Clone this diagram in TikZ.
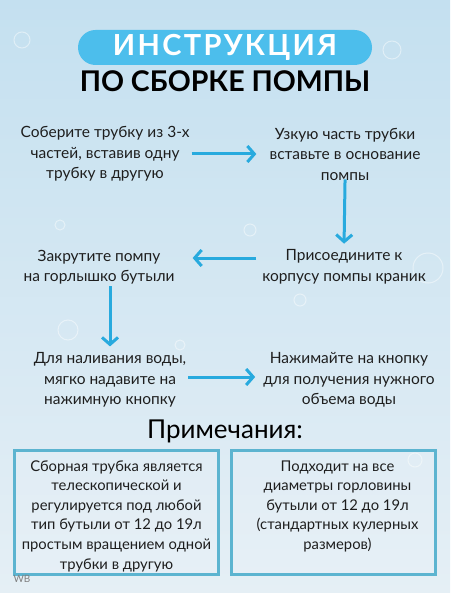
\documentclass[tikz,border=0pt]{standalone}
\usepackage{fontspec}
\setmainfont{Lato}
\newfontfamily\titlefont[LetterSpace=8]{Lato}
\usetikzlibrary{arrows.meta,positioning}
\definecolor{bgtop}{RGB}{196,224,240}
\definecolor{bgbot}{RGB}{229,239,245}
\definecolor{pillblue}{RGB}{76,190,236}
\definecolor{flowblue}{RGB}{40,170,222}
\definecolor{framecol}{RGB}{92,180,208}
\definecolor{inkcol}{RGB}{30,30,30}

\begin{document}
\begin{tikzpicture}[x=1pt,y=-1pt,
  stepnode/.style={align=center,text=inkcol,inner sep=2pt,font=\fontsize{15.5}{20.5}\selectfont},
  notetext/.style={align=center,text=inkcol,inner sep=0pt,anchor=north,font=\fontsize{14.8}{19.6}\selectfont},
  noteframe/.style={draw=framecol,line width=2.6pt,fill=white,fill opacity=0.1,minimum width=204pt,minimum height=124pt,inner sep=0pt},
  flow/.style={flowblue,line width=3pt,-{Straight Barb[length=7pt,width=16pt]}},
  bubble/.style={white,line width=1pt,opacity=0.45}]
  % ---- background
  \useasboundingbox (0,0) rectangle (450,593);
  \shade[top color=bgtop,bottom color=bgbot] (0,0) rectangle (450,593);
  \foreach \bx/\by/\br in {428/268/15,392/50/9,160/40/7,68/330/10,300/300/6,180/345/5,22/40/8,250/230/6,415/460/7,60/225/5}
    \draw[bubble] (\bx,\by) circle (\br);
  % ---- title
  \node[fill=pillblue,rounded corners=17.5pt,minimum width=294pt,minimum height=35pt] (pill) at (225,47.5) {};
  \node[text=white,font=\titlefont\fontsize{29}{30}\bfseries] (title) at (pill.center) {ИНСТРУКЦИЯ};
  \node[text=black,font=\fontsize{28.5}{32}\bfseries,anchor=base] (subtitle) at (225,92) {ПО СБОРКЕ ПОМПЫ};
  % ---- steps
  \node[stepnode] (s1) at (105,154) {Соберите трубку из 3-х\\частей, вставив одну\\трубку в другую};
  \node[stepnode] (s2) at (345,154) {Узкую часть трубки\\вставьте в основание\\помпы};
  \node[stepnode] (s3) at (344,267) {Присоедините к\\корпусу помпы краник};
  \node[stepnode] (s4) at (99,267) {Закрутите помпу\\на горлышко бутыли};
  \node[stepnode] (s5) at (110,380) {Для наливания воды,\\мягко надавите на\\нажимную кнопку};
  \node[stepnode] (s6) at (349,380) {Нажимайте на кнопку\\для получения нужного\\объема воды};
  \draw[flow,shorten >=11pt] (s1) -- (s2);
  \draw[flow,shorten <=-3pt,shorten >=4pt] (s2.south) -- (s3.north);
  \draw[flow,shorten <=4pt,shorten >=16pt] ([yshift=9pt]s3.west) -- ([yshift=9pt]s4.east);
  \draw[flow,shorten >=4pt] ([xshift=11pt]s4.south) -- ([xshift=11pt]s4.south |- s5.north);
  \draw[flow,shorten >=6pt] ([yshift=3pt]s5.east) -- ([yshift=3pt]s5.east -| s6.west);
  % ---- notes
  \node[text=black,font=\fontsize{26}{28}\selectfont,anchor=base] (notes) at (225,438) {Примечания:};
  \node[noteframe] (f1) at (116.5,512.5) {};
  \node[noteframe] (f2) at (333.5,512.5) {};
  \node[notetext] (t1) at ([yshift=-11pt]f1.north) {Сборная трубка является\\телескопической и\\регулируется под любой\\тип бутыли от 12 до 19л\\простым вращением одной\\трубки в другую};
  \node[notetext] (t2) at ([xshift=4pt,yshift=-11pt]f2.north) {Подходит на все\\диаметры горловины\\бутыли от 12 до 19л\\(стандартных кулерных\\размеров)};
  \node[text=gray,font=\fontsize{10}{11}\selectfont] (wb) at (22,579) {WB};
\end{tikzpicture}
\end{document}
